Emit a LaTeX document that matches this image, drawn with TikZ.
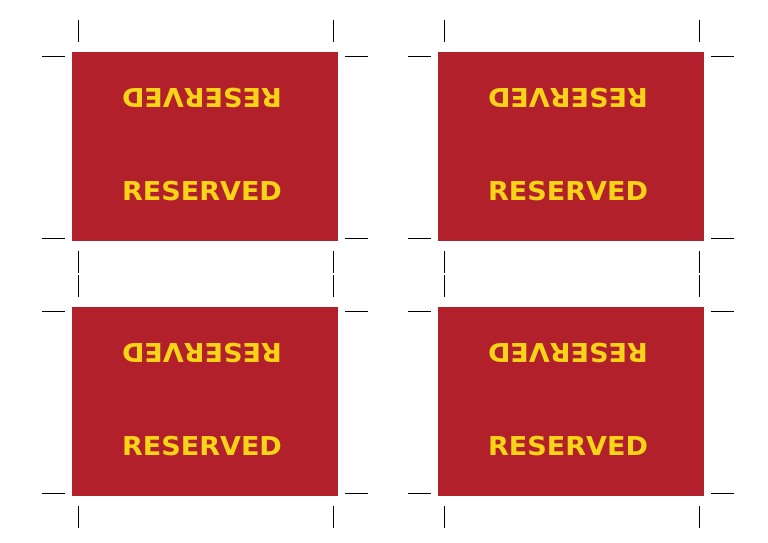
\documentclass[tikz,border=0pt]{standalone}
\usepackage{fontspec}
\newfontfamily\cardfont{DejaVu Sans}
\definecolor{cardred}{HTML}{B2202B}
\definecolor{cardyellow}{HTML}{F7D417}
\begin{document}
\begin{tikzpicture}[x=1pt,y=-1pt,
  card/.style={fill=cardred,draw=none},
  word/.style={text=cardyellow,font=\cardfont\bfseries\fontsize{26}{26}\selectfont,inner sep=0pt,xscale=1.04},
  cropmark/.style={draw=black,line width=0.8pt}]
\useasboundingbox (0,0) rectangle (768,543);
\foreach \cx/\cy [count=\i] in {72/52,438/52,72/307,438/307}{
  \fill[card] (\cx,\cy) rectangle ++(266,189);
  \node[word] (b\i) at (\cx+130,\cy+139) {RESERVED};
  \node[word,rotate=180] (t\i) at (\cx+130,\cy+46) {RESERVED};
  \draw[cropmark] (\cx+6,\cy-32) -- ++(0,22);
  \draw[cropmark] (\cx+261,\cy-32) -- ++(0,22);
  \draw[cropmark] (\cx+6,\cy+199) -- ++(0,22);
  \draw[cropmark] (\cx+261,\cy+199) -- ++(0,22);
  \draw[cropmark] (\cx-30,\cy+4) -- ++(23,0);
  \draw[cropmark] (\cx-30,\cy+186) -- ++(23,0);
  \draw[cropmark] (\cx+273,\cy+4) -- ++(23,0);
  \draw[cropmark] (\cx+273,\cy+186) -- ++(23,0);
}
\end{tikzpicture}
\end{document}
